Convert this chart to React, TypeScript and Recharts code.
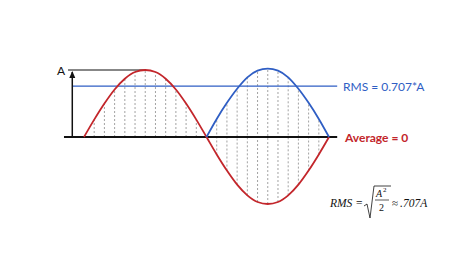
import { ComposedChart, Line, XAxis, YAxis, ReferenceLine, ReferenceDot } from "recharts";

// angle in degrees, sampled every 15 deg over one period
const angles = [0, 15, 30, 45, 60, 75, 90, 105, 120, 135, 150, 165, 180, 195, 210, 225, 240, 255, 270, 285, 300, 315, 330, 345, 360];
// red wave (amplitude A = 1)
const redWave = [0, 0.26, 0.5, 0.71, 0.87, 0.97, 1, 0.97, 0.87, 0.71, 0.5, 0.26, 0, -0.26, -0.5, -0.71, -0.87, -0.97, -1, -0.97, -0.87, -0.71, -0.5, -0.26, 0];
// blue (rectified) second half
const blueWave = [null, null, null, null, null, null, null, null, null, null, null, null, 0, 0.27, 0.51, 0.72, 0.89, 0.99, 1.02, 0.99, 0.89, 0.72, 0.51, 0.27, 0];

const rmsLevel = 0.76;

const RED = "#c3262b";
const BLUE = "#2f5ec4";

const data = angles.map((a, i) => ({ a, red: redWave[i], blue: blueWave[i] }));

// hatch lines: first half from axis to red, second half from red to blue
const hatch = data
  .filter((d) => d.a % 180 !== 0)
  .map((d) => (d.a < 180 ? { a: d.a, lo: 0, hi: d.red } : { a: d.a, lo: d.red, hi: d.blue as number }));

const arrowX = -17.2;

const App = () => {
  return (
    <div style={{ position: "absolute", left: 0, top: 0, width: 474, height: 266, background: "#fff" }}>
      <ComposedChart width={474} height={266} data={data} margin={{ top: 0, right: 0, bottom: 0, left: 0 }}>
        <XAxis dataKey="a" type="number" domain={[-123.4, 573]} hide allowDataOverflow />
        <YAxis type="number" domain={[-1.925, 2.045]} hide allowDataOverflow />
        {hatch.map((h) => (
          <ReferenceLine
            key={h.a}
            segment={[{ x: h.a, y: h.lo }, { x: h.a, y: h.hi }]}
            stroke="#8a8a8a"
            strokeWidth={0.8}
            strokeDasharray="2 2"
          />
        ))}
        <ReferenceLine segment={[{ x: -29.4, y: 0 }, { x: 372, y: 0 }]} stroke="#111" strokeWidth={2} />
        <ReferenceLine segment={[{ x: arrowX, y: rmsLevel }, { x: 372, y: rmsLevel }]} stroke={BLUE} strokeWidth={1.2} />
        <ReferenceLine segment={[{ x: -23.5, y: 1 }, { x: 90, y: 1 }]} stroke="#111" strokeWidth={1.2} />
        <ReferenceLine segment={[{ x: arrowX, y: 0 }, { x: arrowX, y: 0.97 }]} stroke="#111" strokeWidth={1.5} />
        <ReferenceDot
          x={arrowX}
          y={1}
          r={3}
          shape={(p: any) => (
            <polygon points={`${p.cx},${p.cy + 1} ${p.cx - 3},${p.cy + 8} ${p.cx + 3},${p.cy + 8}`} fill="#111" />
          )}
        />
        <Line dataKey="red" type="monotone" stroke={RED} strokeWidth={1.8} dot={false} isAnimationActive={false} />
        <Line dataKey="blue" type="monotone" stroke={BLUE} strokeWidth={1.8} dot={false} isAnimationActive={false} />
      </ComposedChart>
      <svg width={474} height={266} style={{ position: "absolute", left: 0, top: 0 }}>
        <text x={57} y={75} fontFamily="Lato, sans-serif" fontSize={12} fill="#111">A</text>
        <text x={343} y={91} fontFamily="Lato, sans-serif" fontSize={12} fill={BLUE}>RMS = 0.707*A</text>
        <text x={345} y={142} fontFamily="Lato, sans-serif" fontSize={12} fontWeight="bold" fill={RED}>Average = 0</text>
        <g fontFamily="'Liberation Serif', serif" fill="#111">
          <text x={330} y={207} fontSize={11.5} fontStyle="italic">RMS =</text>
          <path d="M364,206 L367,204 L370,218 L374,186 L391,186" fill="none" stroke="#111" strokeWidth={0.8} />
          <text x={376} y={197} fontSize={10} fontStyle="italic">A</text>
          <text x={383} y={192} fontSize={7}>2</text>
          <line x1={375} y1={200} x2={389} y2={200} stroke="#111" strokeWidth={0.7} />
          <text x={379} y={211} fontSize={10}>2</text>
          <text x={392} y={207} fontSize={11}>≈</text>
          <text x={400} y={207} fontSize={11.5} fontStyle="italic">.707A</text>
        </g>
      </svg>
    </div>
  );
};

export default App;
